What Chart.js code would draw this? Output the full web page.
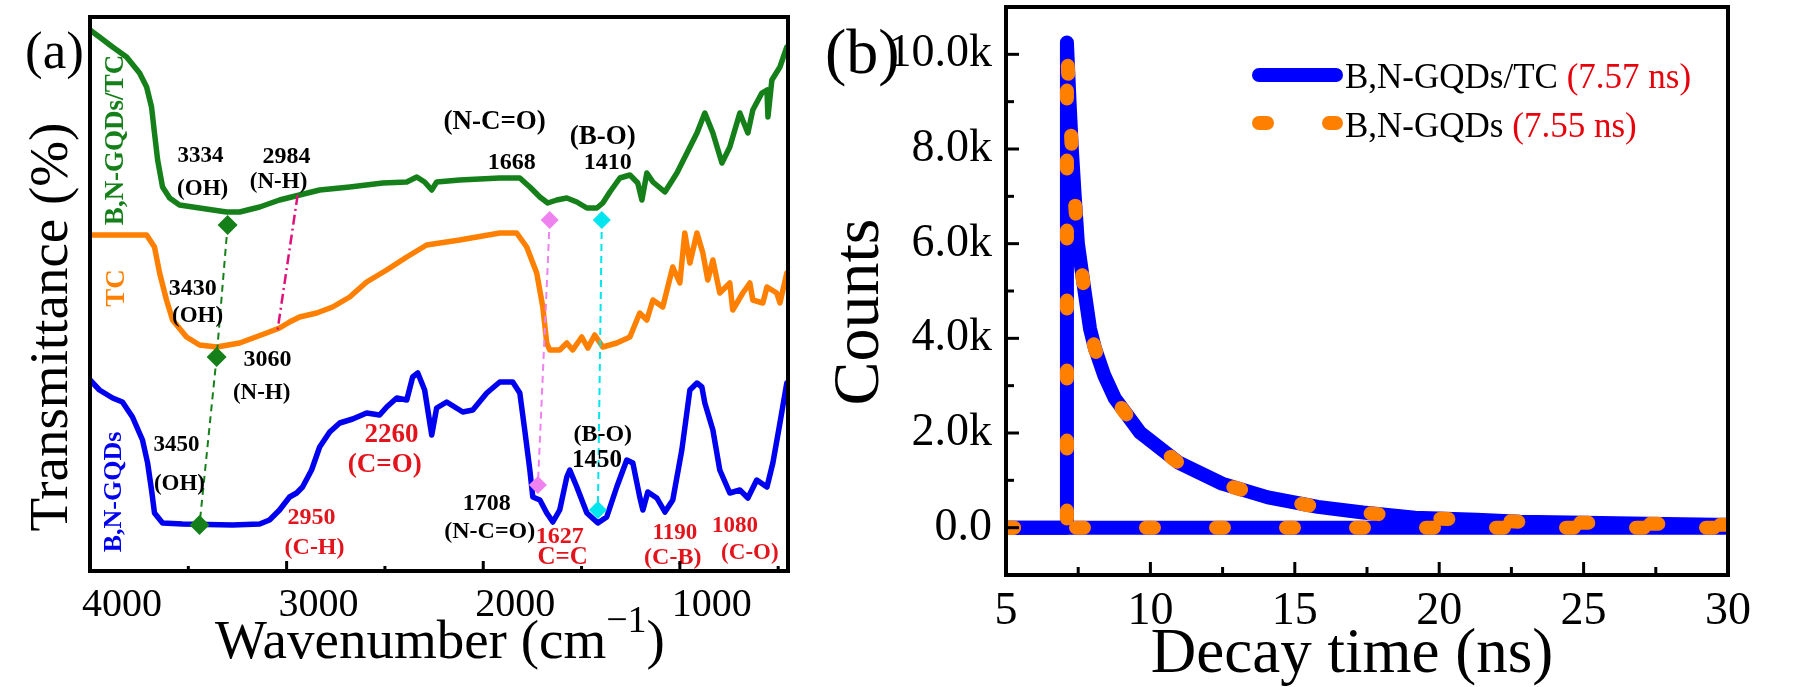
<!DOCTYPE html>
<html>
<head>
<meta charset="utf-8">
<title>FTIR spectra and PL decay</title>
<script src="https://cdn.jsdelivr.net/npm/chart.js@4.4.0/dist/chart.umd.min.js"></script>
<style>
  html, body { margin: 0; padding: 0; background: #fff; }
  body { width: 1816px; height: 687px; position: relative; overflow: hidden; }
  canvas { position: absolute; top: 0; }
  #ftir { left: 0; }
  #decay { left: 820px; }
</style>
</head>
<body>
<canvas id="ftir" width="820" height="687"></canvas>
<canvas id="decay" width="996" height="687"></canvas>
<script>
const SERIF = '"Liberation Serif", "Times New Roman", Times, serif'

// ---------- (a) FTIR, values
// x = wavenumber (cm-1), y = stacked transmittance in arbitrary units (the figure has no y scale)
const wnTicks = [4000, 3500, 3000, 2500, 2000, 1500, 1000, 500]
const wnLabels = ['4000', '', '3000', '', '2000', '', '1000', '']

// B,N-GQDs/TC
const tcgWave = [4000, 3952, 3885, 3814, 3748, 3712, 3687, 3672, 3656, 3631, 3595, 3545, 3443, 3305, 3239, 3137, 3036, 2934, 2832, 2679, 2511, 2389, 2338, 2298, 2262, 2237, 2120, 1916, 1814, 1763, 1712, 1672, 1626, 1575, 1524, 1473, 1422, 1392, 1356, 1305, 1254, 1214, 1193, 1168, 1137, 1076, 1015, 964, 913, 873, 832, 786, 746, 695, 654, 629, 583, 557, 552, 532, 491, 456]
const tcgT = [541, 534, 524, 514, 498, 484, 464, 438, 411, 384, 373, 366, 363, 359, 359, 364, 371, 376, 381, 384, 388, 389, 394, 389, 381, 389, 391, 393, 393, 384, 374, 368, 371, 373, 369, 363, 363, 368, 379, 393, 396, 388, 371, 398, 389, 379, 398, 418, 438, 458, 438, 408, 424, 458, 438, 461, 478, 481, 454, 491, 504, 524]

// TC
const tcWave = [4000, 3712, 3672, 3646, 3611, 3580, 3509, 3443, 3356, 3239, 3102, 3036, 2985, 2934, 2847, 2766, 2679, 2593, 2491, 2389, 2288, 2120, 1916, 1830, 1779, 1728, 1697, 1677, 1662, 1611, 1575, 1545, 1499, 1468, 1433, 1392, 1321, 1254, 1204, 1168, 1137, 1087, 1036, 1000, 975, 949, 913, 883, 858, 832, 797, 746, 731, 680, 644, 629, 578, 557, 507, 491, 456]
const tcT = [336, 336, 324, 298, 271, 251, 234, 226, 224, 228, 238, 243, 249, 254, 258, 264, 274, 289, 301, 314, 326, 331, 338, 338, 324, 298, 264, 228, 221, 221, 228, 221, 234, 223, 236, 224, 228, 234, 258, 251, 271, 264, 304, 288, 338, 308, 338, 318, 291, 311, 278, 288, 261, 278, 288, 271, 268, 284, 278, 268, 298]

// B,N-GQDs
const bnWave = [4000, 3952, 3885, 3835, 3784, 3733, 3707, 3687, 3672, 3631, 3529, 3275, 3137, 3087, 3036, 2985, 2949, 2919, 2873, 2832, 2781, 2730, 2664, 2593, 2527, 2491, 2440, 2389, 2359, 2333, 2298, 2262, 2237, 2186, 2104, 2053, 1982, 1916, 1850, 1814, 1789, 1763, 1748, 1712, 1677, 1646, 1611, 1575, 1560, 1524, 1473, 1417, 1372, 1321, 1270, 1239, 1204, 1188, 1163, 1117, 1076, 1036, 990, 949, 913, 888, 873, 832, 797, 746, 695, 654, 609, 557, 527, 491, 456]
const bnT = [191, 181, 173, 169, 154, 131, 108, 81, 58, 48, 47, 46, 47, 51, 61, 74, 78, 84, 101, 124, 139, 148, 152, 158, 156, 164, 173, 171, 194, 198, 181, 136, 163, 169, 159, 161, 178, 189, 189, 178, 141, 101, 74, 71, 58, 49, 61, 94, 101, 84, 58, 48, 54, 84, 111, 108, 74, 61, 79, 73, 59, 71, 121, 181, 188, 184, 168, 141, 101, 78, 81, 73, 91, 84, 108, 148, 188]

// guide lines joining the matching peaks of the three spectra
const guideOHWave = [3300, 3356, 3443]
const guideOHT = [346, 214, 46]
const guideNCOWave = [1662, 1722]
const guideNCOT = [351, 86]
const guideBOWave = [1397, 1417]
const guideBOT = [351, 61]
const guideNHWave = [2944, 3046]
const guideNHT = [376, 241]

// ---------- (b) decay curves
const timeTicks = [5, 7.5, 10, 12.5, 15, 17.5, 20, 22.5, 25, 27.5, 30]
const timeLabels = ['5', '', '10', '', '15', '', '20', '', '25', '', '30']
const countTicks = [0, 1000, 2000, 3000, 4000, 5000, 6000, 7000, 8000, 9000, 10000]
const countLabels = ['0.0', '', '2.0k', '', '4.0k', '', '6.0k', '', '8.0k', '', '10.0k']

const decayTime = [5, 7.11, 7.11, 7.2, 7.28, 7.38, 7.49, 7.72, 7.91, 8.08, 8.4, 8.77, 9.64, 10.96, 12.48, 14.07, 15.8, 17.36, 19.16, 21.3, 22.8, 25.05, 27.2, 29.6, 30]
const tcgCounts = [0, 0, 10250, 9000, 8000, 7000, 6000, 5000, 4200, 3790, 3220, 2730, 2010, 1380, 930, 640, 440, 320, 212, 165, 127, 106, 85, 64, 60]
const bnCounts = [0, 0, 10150, 8950, 7950, 6950, 5980, 4990, 4180, 3780, 3210, 2720, 2000, 1375, 925, 635, 435, 318, 210, 163, 125, 104, 84, 63, 60]
const baseTime = [5, 30]
const baseCounts = [0, 0]

const pts = (xs, ys) => xs.map((x, i) => ({ x, y: ys[i] }))
const labelFor = (ticks, labels) => (v) => {
	const i = ticks.indexOf(v)
	return i >= 0 ? labels[i] : ''
}

// frame round the plot and inward tick marks
const framePlugin = {
	id: 'frame',
	afterDraw(chart, args, opts) {
		const { ctx, chartArea: a } = chart
		ctx.save()
		ctx.strokeStyle = '#000'
		ctx.lineWidth = 3
		;['x', 'y'].forEach((id) => {
			const t = opts[id]
			if (!t) return
			const s = chart.scales[id]
			s.ticks.forEach((tk) => {
				const len = t.major.includes(tk.value) ? t.long : t.short
				const p = s.getPixelForValue(tk.value)
				ctx.beginPath()
				if (id === 'x') {
					ctx.moveTo(p, a.bottom)
					ctx.lineTo(p, a.bottom - len)
				} else {
					ctx.moveTo(a.left, p)
					ctx.lineTo(a.left + len, p)
				}
				ctx.stroke()
			})
		})
		ctx.lineWidth = 4
		ctx.strokeRect(a.left, a.top, a.right - a.left, a.bottom - a.top)
		ctx.restore()
	},
}

// peak labels of panel (a), placed by wavenumber through the scales
const RED = '#e3141c'
const notes = [
	['3334', 3438, 415, '#000', 23], ['(OH)', 3427, 382, '#000', 23],
	['2984', 3000, 414, '#000', 24], ['(N-H)', 3041, 389, '#000', 23],
	['(N-C=O)', 1942, 449, '#000', 27], ['1668', 1855, 408, '#000', 24],
	['(B-O)', 1392, 434, '#000', 27], ['1410', 1367, 408, '#000', 24],
	['3430', 3478, 282, '#000', 24], ['(OH)', 3453, 255, '#000', 23],
	['3060', 3097, 211, '#000', 24], ['(N-H)', 3127, 178, '#000', 23],
	['3450', 3560, 126, '#000', 23], ['(OH)', 3545, 87, '#000', 23],
	['2950', 2873, 53, RED, 24], ['(C-H)', 2858, 23, RED, 24],
	['2260', 2466, 136, RED, 27], ['(C=O)', 2501, 106, RED, 27],
	['1708', 1982, 67, '#000', 24], ['(N-C=O)', 1967, 39, '#000', 24],
	['1627', 1611, 34, RED, 24], ['C=C', 1596, 13, RED, 25],
	['(B-O)', 1392, 136, '#000', 24], ['1450', 1422, 110, '#000', 25],
	['1190', 1025, 38, RED, 23], ['(C-B)', 1036, 13, RED, 24],
	['1080', 720, 45, RED, 23], ['(C-O)', 644, 18, RED, 23],
	['B,N-GQDs/TC', 3870, 431, '#15801a', 27, true],
	['TC', 3860, 283, '#ff8000', 27, true],
	['B,N-GQDs', 3875, 79, '#0000f0', 26, true],
]
const notesPlugin = {
	id: 'notes',
	afterDatasetsDraw(chart) {
		const { ctx } = chart
		const xs = chart.scales.x
		const ys = chart.scales.y
		ctx.save()
		ctx.textAlign = 'center'
		ctx.textBaseline = 'middle'
		notes.forEach(([text, w, t, color, size, rot]) => {
			ctx.font = `bold ${size}px ${SERIF}`
			ctx.fillStyle = color
			const x = xs.getPixelForValue(w)
			const y = ys.getPixelForValue(t)
			if (rot) {
				ctx.save()
				ctx.translate(x, y)
				ctx.rotate(-Math.PI / 2)
				ctx.fillText(text, 0, 0)
				ctx.restore()
			} else {
				ctx.fillText(text, x, y)
			}
		})
		ctx.restore()
	},
}

const ftirTitles = {
	id: 'ftirTitles',
	afterDraw(chart) {
		const ctx = chart.ctx
		ctx.save()
		ctx.fillStyle = '#000'
		ctx.textBaseline = 'alphabetic'
		ctx.textAlign = 'left'
		ctx.font = `53px ${SERIF}`
		ctx.fillText('(a)', 25, 68)

		ctx.save()
		ctx.translate(67, 327)
		ctx.rotate(-Math.PI / 2)
		ctx.textAlign = 'center'
		ctx.font = `55px ${SERIF}`
		ctx.fillText('Transmittance (%)', 0, 0)
		ctx.restore()

		const main = `55px ${SERIF}`
		const sup = `38px ${SERIF}`
		ctx.font = main
		const w1 = ctx.measureText('Wavenumber (cm').width
		const w3 = ctx.measureText(')').width
		ctx.font = sup
		const w2 = ctx.measureText('\u22121').width
		let x = 440 - (w1 + w2 + w3) / 2
		ctx.font = main
		ctx.fillText('Wavenumber (cm', x, 658)
		x += w1
		ctx.font = sup
		ctx.fillText('\u22121', x, 632)
		x += w2
		ctx.font = main
		ctx.fillText(')', x, 658)
		ctx.restore()
	},
}

const curve = (xs, ys, color) => ({
	data: pts(xs, ys),
	borderColor: color,
	borderWidth: 5.5,
	borderJoinStyle: 'round',
	borderCapStyle: 'round',
	pointRadius: 0,
	tension: 0,
})
const guide = (xs, ys, color, dash, radius) => ({
	data: pts(xs, ys),
	borderColor: color,
	borderWidth: 2,
	borderDash: dash,
	pointStyle: 'rectRot',
	pointRadius: radius,
	pointBackgroundColor: color,
	pointBorderColor: color,
	pointBorderWidth: 0,
	tension: 0,
})

new Chart(document.getElementById('ftir'), {
	type: 'line',
	data: {
		datasets: [
			guide(guideOHWave, guideOHT, '#15801a', [7, 5], 10),
			guide(guideNCOWave, guideNCOT, '#ee82ee', [7, 5], 9),
			guide(guideBOWave, guideBOT, '#00e5ee', [7, 5], 9),
			{ ...guide(guideNHWave, guideNHT, '#e0107a', [10, 4, 2, 4], 0), borderWidth: 2.5 },
			curve(tcgWave, tcgT, '#15801a'),
			curve(tcWave, tcT, '#ff8000'),
			curve(bnWave, bnT, '#0000f0'),
		],
	},
	options: {
		responsive: false,
		animation: false,
		devicePixelRatio: 1,
		layout: { padding: { top: 17, right: 32, left: 0, bottom: 0 } },
		plugins: {
			legend: { display: false },
			tooltip: { enabled: false },
			frame: { x: { major: [4000, 3000, 2000, 1000], long: 10, short: 5 } },
		},
		scales: {
			x: {
				type: 'linear',
				reverse: true,
				min: 450,
				max: 4000,
				afterBuildTicks: (s) => { s.ticks = wnTicks.map((v) => ({ value: v })) },
				afterFit: (s) => { s.height = 116; s.paddingLeft = 0; s.paddingRight = 0 },
				grid: { display: false },
				border: { display: false },
				ticks: {
					autoSkip: false,
					maxRotation: 0,
					labelOffset: 32,
					padding: 2,
					color: '#000',
					font: { family: SERIF, size: 40 },
					callback: labelFor(wnTicks, wnLabels),
				},
			},
			y: {
				type: 'linear',
				min: 0,
				max: 554,
				afterFit: (s) => { s.width = 90; s.paddingTop = 0; s.paddingBottom = 0 },
				grid: { display: false },
				border: { display: false },
				ticks: { display: false },
			},
		},
	},
	plugins: [framePlugin, notesPlugin, ftirTitles],
})

// ---------- (b)
const decayDecor = {
	id: 'decayDecor',
	afterDraw(chart) {
		const ctx = chart.ctx
		const [bn, , tcg] = chart.data.datasets
		ctx.save()
		ctx.fillStyle = '#000'
		ctx.textBaseline = 'alphabetic'
		ctx.textAlign = 'left'
		ctx.font = `64px ${SERIF}`
		ctx.fillText('(b)', 5, 73)

		ctx.save()
		ctx.translate(58, 312)
		ctx.rotate(-Math.PI / 2)
		ctx.textAlign = 'center'
		ctx.font = `66px ${SERIF}`
		ctx.fillText('Counts', 0, 0)
		ctx.restore()

		ctx.textAlign = 'center'
		ctx.font = `63px ${SERIF}`
		ctx.fillText('Decay time (ns)', 532, 672)

		// legend
		const rows = [
			[tcg, 'B,N-GQDs/TC ', '(7.57 ns)', 75, 88],
			[bn, 'B,N-GQDs ', '(7.55 ns)', 123, 137],
		]
		rows.forEach(([ds, name, tau, ly, by]) => {
			ctx.save()
			ctx.strokeStyle = ds.borderColor
			ctx.lineWidth = ds.borderWidth
			ctx.lineCap = 'round'
			ctx.setLineDash(ds.borderDash || [])
			ctx.beginPath()
			if (ds.borderDash) {
				ctx.moveTo(439, ly)
				ctx.lineTo(516, ly)
			} else {
				ctx.moveTo(439, ly)
				ctx.lineTo(516, ly)
			}
			ctx.stroke()
			ctx.restore()
			ctx.textAlign = 'left'
			ctx.font = `35px ${SERIF}`
			ctx.fillStyle = '#000'
			ctx.fillText(name, 525, by)
			const w = ctx.measureText(name).width
			ctx.fillStyle = '#e8000b'
			ctx.fillText(tau, 525 + w, by)
		})
		ctx.restore()
	},
}

const decayLine = (xs, ys, color, dash) => ({
	data: pts(xs, ys),
	borderColor: color,
	borderWidth: 14,
	borderDash: dash,
	borderJoinStyle: 'round',
	borderCapStyle: 'round',
	pointRadius: 0,
	tension: 0,
	clip: 0,
})

new Chart(document.getElementById('decay'), {
	type: 'line',
	data: {
		datasets: [
			decayLine(decayTime, bnCounts, '#ff8000', [8, 62]),
			decayLine(baseTime, baseCounts, '#ff8000', [8, 62]),
			decayLine(decayTime, tcgCounts, '#0000ff'),
			decayLine(baseTime, baseCounts, '#0000ff'),
		],
	},
	options: {
		responsive: false,
		animation: false,
		devicePixelRatio: 1,
		layout: { padding: { top: 7, right: 88, left: 0, bottom: 0 } },
		plugins: {
			legend: { display: false },
			tooltip: { enabled: false },
			frame: {
				x: { major: [5, 10, 15, 20, 25, 30], long: 13, short: 8 },
				y: { major: [0, 2000, 4000, 6000, 8000, 10000], long: 13, short: 8 },
			},
		},
		scales: {
			x: {
				type: 'linear',
				min: 5,
				max: 30,
				afterBuildTicks: (s) => { s.ticks = timeTicks.map((v) => ({ value: v })) },
				afterFit: (s) => { s.height = 112; s.paddingLeft = 0; s.paddingRight = 0 },
				grid: { display: false },
				border: { display: false },
				ticks: {
					autoSkip: false,
					maxRotation: 0,
					padding: 1,
					color: '#000',
					font: { family: SERIF, size: 46 },
					callback: labelFor(timeTicks, timeLabels),
				},
			},
			y: {
				type: 'linear',
				min: -1000,
				max: 11000,
				afterBuildTicks: (s) => { s.ticks = countTicks.map((v) => ({ value: v })) },
				afterFit: (s) => { s.width = 186; s.paddingTop = 0; s.paddingBottom = 0 },
				grid: { display: false },
				border: { display: false },
				ticks: {
					autoSkip: false,
					padding: 6,
					color: '#000',
					font: { family: SERIF, size: 46 },
					callback: labelFor(countTicks, countLabels),
				},
			},
		},
	},
	plugins: [framePlugin, decayDecor],
})
</script>
</body>
</html>
